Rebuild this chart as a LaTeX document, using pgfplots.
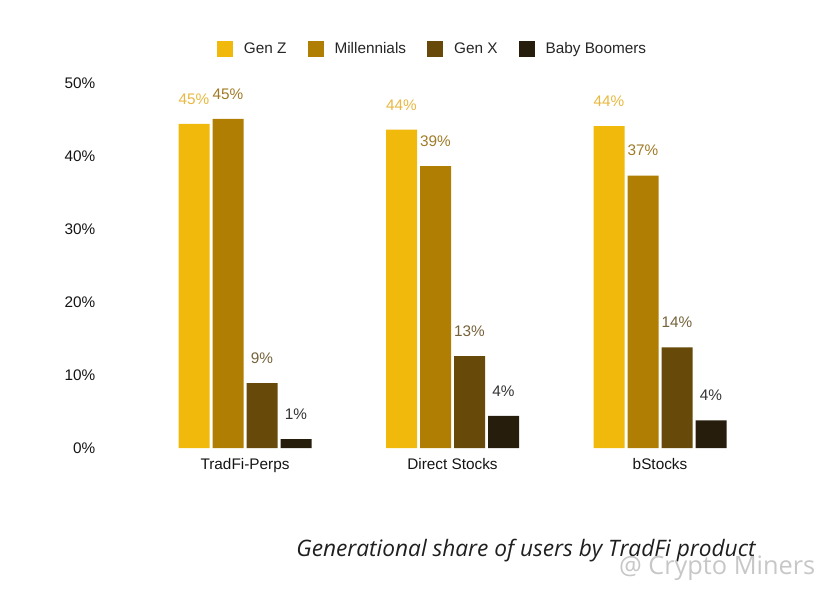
\documentclass[border=0pt]{standalone}
\usepackage{fontspec}
\setmainfont{Liberation Sans}
\newfontfamily\capfont{Open Sans}
\usepackage{pgfplots}
\pgfplotsset{compat=1.18}
\definecolor{genz}{HTML}{F0B90B}
\definecolor{mill}{HTML}{B07E02}
\definecolor{genx}{HTML}{67490A}
\definecolor{boom}{HTML}{271D0C}
\definecolor{genzl}{HTML}{E8B840}
\definecolor{milll}{HTML}{A07A26}
\definecolor{genxl}{HTML}{76623A}
\definecolor{booml}{HTML}{333333}
\newcommand{\fs}{\fontsize{11.5}{14}\selectfont}
\begin{document}
\begin{tikzpicture}
\useasboundingbox (0,0) rectangle (621pt,442.5pt);
\begin{axis}[
  at={(105.94pt,106.5pt)}, anchor=south west,
  scale only axis, width=466.875pt, height=273.75pt,
  xmin=-0.5, xmax=2.5, ymin=0, ymax=50,
  ybar=2.25pt, bar width=23.25pt,
  xtick={0,1,2}, xticklabels={TradFi-Perps,Direct Stocks,bStocks},
  ytick={0,10,20,30,40,50}, yticklabels={0\%,10\%,20\%,30\%,40\%,50\%},
  major tick length=0pt,
  axis line style={draw=none},
  tick label style={font=\fs, text=black!92},
  yticklabel style={xshift=-31pt},
  xticklabel style={yshift=-4pt},
  legend columns=4,
  legend style={at={(0.4687,1.093)}, anchor=center, draw=none, font=\fs, text=black!85,
    /tikz/every odd column/.append style={column sep=6pt},
    /tikz/every even column/.append style={column sep=14pt}},
  legend image code/.code={\fill[#1] (0pt,-6pt) rectangle (12pt,6pt);},
  point meta=explicit symbolic,
  nodes near coords={\pgfplotspointmeta\%},
  every node near coord/.append style={anchor=center, yshift=18.75pt, font=\fs},
]
\addplot[fill=genz, draw=none, every node near coord/.append style={text=genzl}]
  coordinates {(0,44.4)[45] (1,43.6)[44] (2,44.1)[44]};
\addplot[fill=mill, draw=none, every node near coord/.append style={text=milll}]
  coordinates {(0,45.1)[45] (1,38.6)[39] (2,37.3)[37]};
\addplot[fill=genx, draw=none, every node near coord/.append style={text=genxl}]
  coordinates {(0,8.9)[9] (1,12.6)[13] (2,13.8)[14]};
\addplot[fill=boom, draw=none, every node near coord/.append style={text=booml}]
  coordinates {(0,1.2)[1] (1,4.4)[4] (2,3.8)[4]};
\legend{Gen Z,Millennials,Gen X,Baby Boomers}
\end{axis}
\node[font=\capfont\itshape\fontsize{17}{20}\selectfont, text=black!88] at (394.5pt,29.25pt) {Generational share of users by TradFi product};
\node[anchor=east, font=\capfont\fontsize{19}{22}\selectfont, text=black!22] at (615pt,16pt) {@ Crypto Miners};
\end{tikzpicture}
\end{document}
